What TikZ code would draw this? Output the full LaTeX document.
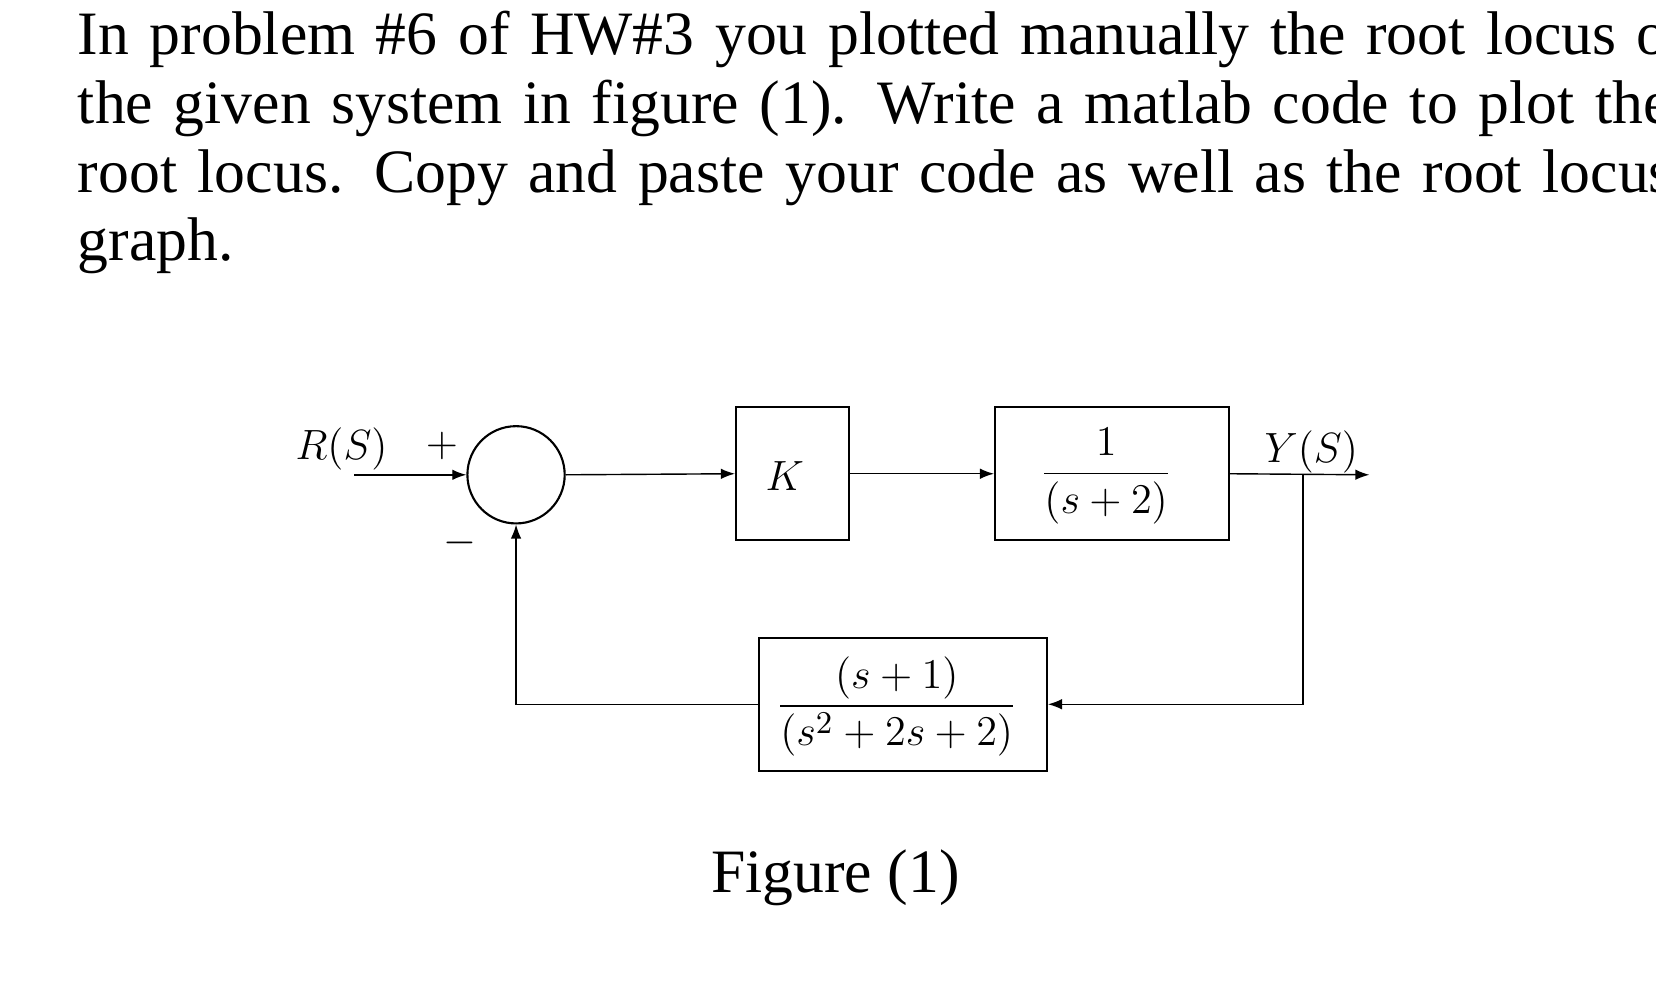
\documentclass[tikz,border=0pt]{standalone}
\usepackage{amsmath}
\usepackage{fontspec}
\setmainfont{Liberation Serif}
\usetikzlibrary{arrows.meta}
\newcommand{\jline}[1]{\makebox[430pt][s]{#1}}
\begin{document}
\begin{tikzpicture}[x=0.3pt,y=-0.3pt,
  blk/.style={draw,line width=0.6pt,inner sep=0pt},
  ln/.style={line width=0.4pt},
  arr/.style={ln,-{Latex[length=4pt,width=3pt]}},
  lab/.style={inner sep=0pt,font=\fontsize{13}{15}\selectfont}]
\useasboundingbox (0,0) rectangle (1566,946);
\node[anchor=north west,inner sep=0pt,text width=430pt,align=left,font=\fontsize{17.5}{19.5}\selectfont] (txt) at (73,10)
{\jline{In problem \#6 of HW\#3 you plotted manually the root locus of}\\
\jline{the given system in figure (1). Write a matlab code to plot the}\\
\jline{root locus. Copy and paste your code as well as the root locus}\\
graph.};
\node[draw,circle,line width=0.6pt,minimum size=27.6pt,inner sep=0pt] (sum) at (488,449) {};
\node[blk,minimum width=32.1pt,minimum height=37.8pt] (K) at (749.5,448) {};
\node[lab] (Kt) at (742,450) {$K$};
\node[blk,minimum width=66.3pt,minimum height=37.8pt] (G) at (1051.5,448) {};
\node[lab] (Gt) at (1046,450) {$\dfrac{1}{(s+2)}$};
\node[blk,minimum width=81.6pt,minimum height=37.8pt] (H) at (854,666) {};
\node[lab] (Ht) at (848,668) {$\dfrac{(s+1)}{(s^2+2s+2)}$};
\node[lab] (R) at (323,425) {$R(S)$};
\node[lab] (Y) at (1240,427) {$Y(S)$};
\node[lab] (plus) at (418,422) {$+$};
\node[lab] (minus) at (435,513) {$-$};
\coordinate (in) at (335,449);
\coordinate (out) at (1295,449);
\coordinate (br) at (1232,449);
\coordinate (c1) at (1232,666);
\coordinate (c2) at (488,666);
\draw[arr] (in) -- (sum.west);
\draw[arr] (sum.east) -- (K.west);
\draw[arr] (K.east) -- (G.west);
\draw[arr] (G.east) -- (out);
\draw[arr] (br) -- (c1) -- (H.east);
\draw[arr] (H.west) -- (c2) -- (sum.south);
\node[inner sep=0pt,font=\fontsize{17.5}{20}\selectfont] (fig) at (790,830) {Figure (1)};
\end{tikzpicture}
\end{document}
